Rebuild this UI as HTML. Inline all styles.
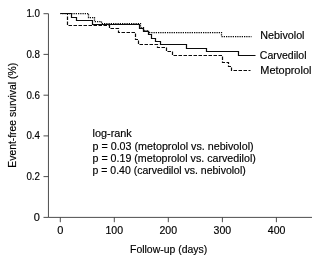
<!DOCTYPE html>
<html>
<head>
<meta charset="utf-8">
<title>Event-free survival</title>
<style>
html,body{margin:0;padding:0;background:#fff;}
body{width:323px;height:260px;overflow:hidden;}
svg{display:block;}
text{font-family:"Liberation Sans","DejaVu Sans",sans-serif;font-size:11px;fill:#000;stroke:#000;stroke-width:0.16px;}
</style>
</head>
<body>
<svg width="323" height="260" viewBox="0 0 323 260">
<rect x="0" y="0" width="323" height="260" fill="#ffffff"/>
<!-- axes -->
<g fill="none" stroke="#3a3a3a" stroke-width="0.9">
<path d="M48.45,13.7 V217.4 H312"/>
<path d="M43.5,13.7 H48.45 M43.5,54.4 H48.45 M43.5,95.2 H48.45 M43.5,135.9 H48.45 M43.5,176.6 H48.45 M43.5,217.4 H48.45"/>
<path d="M60.3,217.4 V222.2 M114.3,217.4 V222.2 M168.3,217.4 V222.2 M222.4,217.4 V222.2 M276.4,217.4 V222.2"/>
</g>
<!-- curves -->
<g fill="none" stroke="#0a0a0a" stroke-width="1.2">
<path d="M60.5,13.5 H88.5 V17.5 H94.5 V21.5 H101.5 V23.5 H140.5 V27.5 H143.5 V30.5 H148.5 V32.5 H221.5 V36.5 H251.5" stroke-dasharray="1.25 1" stroke-dashoffset="0.5" stroke-width="1.25"/>
<path d="M60.5,13.5 H67.5 V25.5 H109.5 V28.5 H118.5 V32.5 H135.5 V39.5 H138.5 V44.5 H157.5 V47.5 H166.5 V51.5 H172.5 V55.5 H222.5 V62.5 H228.5 V66.5 H231.5 V70.5 H250.5" stroke-dasharray="3.5 1.5"/>
<path d="M60.5,13.5 H71.5 V17.5 H76.5 V20.5 H92.5 V24.5 H139.5 V28.5 H143.5 V31.5 H148.5 V34.5 H151.5 V38.5 H155.5 V41.5 H160.5 V44.5 H186.5 V48.5 H206.5 V51.5 H238.5 V55.5 H255.5"/>
</g>
<!-- y tick labels -->
<g text-anchor="end">
<text x="40" y="17.2" textLength="13.6" lengthAdjust="spacingAndGlyphs">1.0</text>
<text x="40" y="57.9" textLength="13.6" lengthAdjust="spacingAndGlyphs">0.8</text>
<text x="40" y="98.7" textLength="13.6" lengthAdjust="spacingAndGlyphs">0.6</text>
<text x="40" y="139.4" textLength="13.6" lengthAdjust="spacingAndGlyphs">0.4</text>
<text x="40" y="180.1" textLength="13.6" lengthAdjust="spacingAndGlyphs">0.2</text>
<text x="39.8" y="220.8">0</text>
</g>
<!-- x tick labels -->
<g text-anchor="middle">
<text x="60.2" y="233.8">0</text>
<text x="114.3" y="233.8" textLength="17.6" lengthAdjust="spacingAndGlyphs">100</text>
<text x="168.3" y="233.8" textLength="17.6" lengthAdjust="spacingAndGlyphs">200</text>
<text x="222.4" y="233.8" textLength="17.6" lengthAdjust="spacingAndGlyphs">300</text>
<text x="276.6" y="233.8" textLength="17.6" lengthAdjust="spacingAndGlyphs">400</text>
</g>
<text x="130" y="252.8" textLength="77.3" lengthAdjust="spacingAndGlyphs">Follow-up (days)</text>
<text transform="translate(15.9,167.7) rotate(-90)" textLength="104.8" lengthAdjust="spacingAndGlyphs">Event-free survival (%)</text>
<!-- legend labels -->
<text x="260.3" y="38.9" textLength="44.2" lengthAdjust="spacingAndGlyphs">Nebivolol</text>
<text x="259.8" y="58.6" textLength="46.7" lengthAdjust="spacingAndGlyphs">Carvedilol</text>
<text x="260.3" y="74" textLength="51.1" lengthAdjust="spacingAndGlyphs">Metoprolol</text>
<!-- stats -->
<text x="92.5" y="137.4" textLength="39.3" lengthAdjust="spacingAndGlyphs">log-rank</text>
<text x="92.5" y="149.8" textLength="161.1" lengthAdjust="spacingAndGlyphs">p = 0.03 (metoprolol vs. nebivolol)</text>
<text x="92.5" y="162.1" textLength="163.3" lengthAdjust="spacingAndGlyphs">p = 0.19 (metoprolol vs. carvedilol)</text>
<text x="92.5" y="174.4" textLength="153.3" lengthAdjust="spacingAndGlyphs">p = 0.40 (carvedilol vs. nebivolol)</text>
</svg>
</body>
</html>
